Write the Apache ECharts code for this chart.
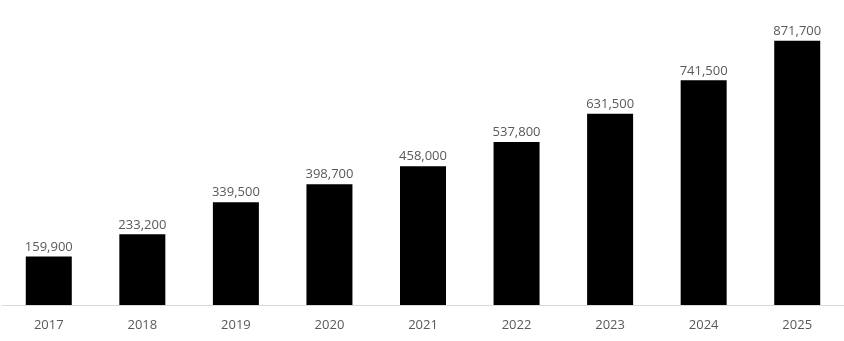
<!DOCTYPE html>
<html><head><meta charset="utf-8">
<script src="https://cdn.jsdelivr.net/npm/echarts@6/dist/echarts.min.js"></script>
<style>html,body{margin:0;padding:0;background:#fff}#c{width:844px;height:341px}</style>
</head><body><div id="c"></div>
<script>
const categories = ['2017','2018','2019','2020','2021','2022','2023','2024','2025'];
const values = [159900, 233200, 339500, 398700, 458000, 537800, 631500, 741500, 871700];

const chart = echarts.init(document.getElementById('c'));
chart.setOption({
  animation: false,
  backgroundColor: '#fff',
  grid: { left: 2, right: 0, top: 2, bottom: 36, containLabel: false },
  xAxis: {
    type: 'category', data: categories,
    axisLine: { lineStyle: { color: '#d9d9d9', width: 1 } },
    axisTick: { show: false },
    axisLabel: { color: '#595959', fontSize: 13, fontFamily: 'Open Sans', margin: 14 }
  },
  yAxis: { type: 'value', min: 0, max: 1000000, show: false, splitLine: { show: false } },
  series: [{
    type: 'bar', data: values, barWidth: 46,
    itemStyle: { color: '#000' },
    label: {
      show: true, position: 'top', distance: 3, color: '#595959', fontSize: 13,
      fontFamily: 'Open Sans',
      formatter: p => p.value.toLocaleString('en-US')
    }
  }]
});
</script></body></html>
